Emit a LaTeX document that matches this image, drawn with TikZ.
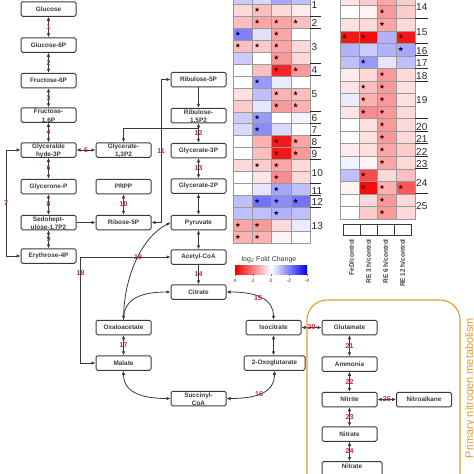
\documentclass[tikz,border=0pt]{standalone}
\usepackage{fontspec}
\setmainfont{Liberation Sans}
\usetikzlibrary{arrows.meta,shapes.geometric,calc}
\definecolor{boxc}{HTML}{3A3A3A}
\definecolor{numc}{HTML}{C8283C}
\definecolor{orc}{HTML}{E59A2F}
\definecolor{hmR}{HTML}{F20000}
\definecolor{hmB}{HTML}{0000F2}
\begin{document}
\begin{tikzpicture}[x=1pt,y=-1pt,
  mbox/.style={draw=boxc, line width=1pt, rounded corners=1.5pt, fill=white, minimum width=55pt, minimum height=14.5pt, inner sep=0pt, font=\bfseries\fontsize{6.4}{8}\selectfont, text=boxc, align=center},
  tl/.style={inner sep=0pt, font=\bfseries\fontsize{6.4}{8.2}\selectfont, text=boxc, align=center},
  rn/.style={inner sep=0.3pt, font=\bfseries\fontsize{7}{7}\selectfont, text=numc},
  conn/.style={draw=boxc, line width=0.8pt},
  arr/.style={conn, -{Latex[length=4pt,width=3.6pt]}},
  darr/.style={conn, {Latex[length=4pt,width=3.6pt]}-{Latex[length=4pt,width=3.6pt]}},
  hstar/.style={star, star points=5, star point ratio=2.4, inner sep=0pt, minimum size=4.8pt},
  hlab/.style={anchor=west, inner sep=0pt, font=\fontsize{10}{10}\selectfont, text=black!85},
  sepl/.style={draw=black!85, line width=0.7pt},
  gridl/.style={draw=black!40, line width=0.3pt},
  collab/.style={rotate=90, anchor=east, inner sep=0pt, font=\bfseries\fontsize{6.5}{6.5}\selectfont, text=boxc},
]
\clip (0,0) rectangle (474,474);
\fill[white] (0,0) rectangle (474,474);

% ---------------- heatmap 1 ----------------
\def\hmA{{B/20/0,B/15/0,B/35/0,B/25/0},{R/15/0,R/25/1,R/15/0,R/8/0},{R/25/0,R/35/1,R/35/1,R/25/1},{B/50/1,B/12/0,R/35/1,R/0/0},{R/25/1,R/20/1,R/35/1,R/15/0},{B/20/0,R/0/0,R/40/1,R/15/0},{R/0/0,R/25/0,R/85/1,R/40/1},{R/0/0,B/40/1,B/8/0,R/0/0},{R/12/0,B/25/0,R/30/1,R/25/1},{R/20/0,B/10/0,R/40/1,R/30/1},{B/20/0,B/40/1,R/0/0,B/5/0},{B/15/0,B/45/1,B/15/0,R/0/0},{R/0/0,R/30/0,R/90/1,R/35/1},{R/0/0,R/25/0,R/90/1,R/40/1},{R/15/0,R/20/1,R/35/1,R/15/0},{R/0/0,R/10/0,R/45/1,R/15/0},{R/0/0,B/10/0,B/35/1,B/25/0},{B/25/0,B/55/1,B/45/1,B/55/1},{B/25/0,B/25/0,B/30/1,B/25/0},{R/35/1,R/40/1,R/15/0,B/8/0},{R/30/1,R/30/1,R/5/0,R/0/0}}
\foreach \hrow [count=\ri from 0] in \hmA {
  \foreach \cc/\amt/\sx [count=\ci from 0] in \hrow {
    \pgfmathsetmacro\xx{233+\ci*19.25}
    \pgfmathsetmacro\yy{-7.92+\ri*11.96}
    \fill[hm\cc!\amt!white] (\xx,\yy) rectangle ++(19.25,11.96);
    \ifnum\sx=1 \node[hstar, fill=hm\cc!30!black] at (\xx+4.8,\yy+5.6) {};\fi
  }
}
\foreach \k in {1,...,20} \draw[gridl] (233,-7.92+\k*11.96) -- (310,-7.92+\k*11.96);
\foreach \k in {1,2,3} \draw[gridl] (233+\k*19.25,-8) -- (233+\k*19.25,243.24);
\draw[gridl] (233,-8) rectangle (310,243.24);
\foreach \j in {2,3,6,7,10,11,12,13,14,16,17,18} \draw[sepl] (310,-7.92+\j*11.96) -- (321,-7.92+\j*11.96);
\foreach \t/\yl in {1/5,2/22.7,3/46.7,4/70.5,5/94,6/118,7/130,8/141.7,9/154,10/172.7,11/190.8,12/202.3,13/226} \node[hlab] at (311.5,\yl) {\t};

% ---------------- heatmap 2 ----------------
\def\hmB{{R/10/0,R/20/0,R/35/0,R/20/0},{R/0/0,R/5/0,R/40/1,R/20/0},{R/12/0,R/15/0,R/35/1,R/15/0},{R/90/1,R/95/1,B/30/0,R/90/1},{B/30/0,B/20/0,B/30/0,B/35/1},{B/25/0,B/40/1,B/10/0,B/25/0},{R/8/0,R/15/0,R/40/1,R/15/0},{R/10/0,R/25/1,R/40/1,R/12/0},{B/8/0,R/30/1,R/40/1,R/12/0},{R/10/0,R/45/1,R/40/1,R/15/0},{R/0/0,R/12/0,R/40/1,R/15/0},{R/0/0,R/12/0,R/40/1,R/15/0},{R/8/0,R/12/0,R/35/1,R/20/0},{B/5/0,R/5/0,R/35/1,R/15/0},{B/25/0,R/70/1,R/15/0,R/25/0},{R/5/0,R/95/1,R/30/1,R/65/1},{R/0/0,R/15/0,R/40/1,R/15/0},{R/0/0,R/20/0,R/40/1,R/15/0}}
\foreach \hrow [count=\ri from 0] in \hmB {
  \foreach \cc/\amt/\sx [count=\ci from 0] in \hrow {
    \pgfmathsetmacro\xx{340+\ci*18.75}
    \pgfmathsetmacro\yy{-7+\ri*12.55}
    \fill[hm\cc!\amt!white] (\xx,\yy) rectangle ++(18.75,12.55);
    \ifnum\sx=1 \node[hstar, fill=hm\cc!30!black] at (\xx+4.5,\yy+5.8) {};\fi
  }
}
\foreach \k in {1,...,17} \draw[gridl] (340,-7+\k*12.55) -- (415,-7+\k*12.55);
\foreach \k in {1,2,3} \draw[gridl] (340+\k*18.75,-8) -- (340+\k*18.75,218.9);
\draw[gridl] (340,-8) rectangle (415,218.9);
\foreach \j in {2,4,5,6,7,10,11,12,13,14,16} \draw[sepl] (415,-7+\j*12.55) -- (428,-7+\j*12.55);
\foreach \t/\yl in {14/6.7,15/32.3,16/51,17/63.3,18/76,19/100,20/126.7,21/139.3,22/151.7,23/164.3,24/182.7,25/206} \node[hlab] at (416,\yl) {\t};

% column labels
\draw[boxc, line width=0.8pt] (343,224) rectangle (411,235);
\foreach \xd in {360,377,394} \draw[boxc, line width=0.6pt] (\xd,224) -- (\xd,235);
\node[collab] (cl1) at (351.5,239) {FeD/control};
\node[collab] (cl2) at (368.5,239) {RE 3 h/control};
\node[collab] (cl3) at (385.5,239) {RE 6 h/control};
\node[collab] (cl4) at (402.5,239) {RE 12 h/control};

% legend
\node[font=\fontsize{7}{7}\selectfont, text=boxc, inner sep=0pt] (lgt) at (269,260) {log\textsubscript{2} Fold Change};
\shade[left color=hmR, right color=hmB, middle color=white] (235,265) rectangle (307,274);
\foreach \xt/\lt in {235/4,253/2,271/0,289/-2,307/-4} {
  \draw[boxc!70, line width=0.4pt] (\xt,274) -- (\xt,276);
  \node[font=\fontsize{5}{5}\selectfont, text=boxc, inner sep=0pt] at (\xt,280.5) {\lt};
}

% ---------------- pathway nodes ----------------
\node[mbox] (glc) at (48.5,9) {Glucose};
\node[mbox] (g6p) at (48.5,45) {Glucose-6P};
\node[mbox] (f6p) at (48.5,80.5) {Fructose-6P};
\node[mbox] (f16p) at (48.5,115) {};
\node[mbox] (gap) at (48.5,150) {};
\node[mbox] (g13p) at (123.5,150) {};
\node[mbox] (dhap) at (48.5,186.5) {Glycerone-P};
\node[mbox] (prpp) at (123.5,186.5) {PRPP};
\node[mbox] (s17p) at (48.5,222.5) {};
\node[mbox] (r5p) at (123.5,222.5) {Ribose-5P};
\node[mbox] (e4p) at (48.5,256) {Erythrose-4P};
\node[mbox] (ru5p) at (198.5,79.5) {Ribulose-5P};
\node[mbox] (rubp) at (198.5,115.5) {};
\node[mbox] (g3p) at (198.5,150.5) {Glycerate-3P};
\node[mbox] (g2p) at (198.5,186) {Glycerate-2P};
\node[mbox] (pyr) at (198.5,222.5) {Pyruvate};
\node[mbox] (acoa) at (198.5,257) {Acetyl-CoA};
\node[mbox] (cit) at (198.5,292) {Citrate};
\node[mbox] (oaa) at (123.5,327.5) {Oxaloacetate};
\node[mbox] (mal) at (123.5,363) {Malate};
\node[mbox] (scoa) at (198.5,398.5) {};
\node[mbox] (icit) at (273.5,327.5) {Isocitrate};
\node[mbox, minimum width=61pt] (ogl) at (274.5,363) {2-Oxoglutarate};
\node[mbox] (glu) at (349.5,327.5) {Glutamate};
\node[mbox] (amm) at (349.5,364) {Ammonia};
\node[mbox] (nit) at (349.5,399.5) {Nitrite};
\node[mbox] (nal) at (424,399.5) {Nitroalkane};
\node[mbox] (no3) at (349.5,434) {Nitrate};
\node[mbox, minimum width=60pt, minimum height=30pt, anchor=north] (no3x) at (352,461) {};

% ---------------- connectors ----------------
\draw[darr] (glc) -- node[rn]{1} (g6p);
\draw[darr] (g6p) -- node[rn]{2} (f6p);
\draw[darr] (f6p) -- node[rn]{3} (f16p);
\draw[darr] (f16p) -- node[rn]{4} (gap);
\draw[darr] (gap) -- node[rn]{5} (g13p);
\draw[darr] (gap) -- node[rn]{6} (dhap);
\coordinate (c7) at (6,0);
\draw[darr] (gap.west) -- (c7 |- gap.west) -- node[rn]{7} (c7 |- e4p.west) -- (e4p.west);
\draw[darr] (dhap) -- node[rn]{8} (s17p);
\draw[darr] (s17p) -- node[rn]{9} (e4p);
\draw[darr] (prpp) -- node[rn]{10} (r5p);
\draw[arr] (s17p) -- (r5p);
\coordinate (c11) at (161,0);
\draw[darr] (r5p.east) -- (c11 |- r5p.east) -- node[rn]{11} (c11 |- ru5p.west) -- (ru5p.west);
\draw[arr] (ru5p) -- (rubp);
\draw[darr] (rubp) -- node[rn]{12} (g3p);
\coordinate (j12) at (198.5,128);
\draw[arr] (j12) -| (g13p.north);
\draw[darr] (g3p) -- node[rn]{13} (g2p);
\draw[darr] (g2p) -- (pyr);
\draw[darr] (pyr) -- (acoa);
\draw[arr] (acoa) -- node[rn]{14} (cit);
\draw[darr] (oaa) -- node[rn]{17} (mal);
\draw[darr] (icit.south) -- (icit.south |- ogl.north);
\draw[darr] (icit) -- node[rn]{20} (glu);
\draw[darr] (glu) -- node[rn]{21} (amm);
\draw[darr] (amm) -- node[rn]{22} (nit);
\draw[darr] (nit) -- node[rn]{23} (no3);
\draw[darr] (no3.south) -- node[rn]{24} (no3.south |- no3x.north);
\draw[darr] (nit) -- node[rn]{25} (nal);
\coordinate (j18) at (80,257);
\draw[arr] (j18) -- (acoa.west);
\draw[arr] (j18) |- (mal.west);
\node[rn] (n18) at (80.5,273) {18};
\node[rn] (n19) at (138,257) {19};
\draw[darr] (oaa.north) .. controls +(1,-45) and +(-28,14) .. (pyr.west);
\draw[arr] (oaa.north) .. controls +(0,-22) and +(-28,0) .. (cit.west);
\draw[darr] (mal.south) .. controls +(0,22) and +(-28,0) .. (scoa.west);
\draw[darr] (cit.east) .. controls +(32,0) and +(0,-20) .. (icit.north);
\draw[darr] (ogl.south) .. controls +(0,22) and +(30,0) .. (scoa.east);
\node[rn] (n15) at (258,298) {15};
\node[rn] (n16) at (259,394) {16};

% two-line texts
\node[tl] (f16pt) at (48.5,116.3) {Fructose-\\1,6P};
\node[tl] (gapt) at (48.5,151) {Glyceralde\\hyde-3P};
\node[tl] (g13pt) at (123.5,151) {Glycerate-\\1,3P2};
\node[tl] (s17pt) at (48.5,223.5) {Sedohept-\\ulose-1,7P2};
\node[tl] (rubpt) at (198.5,116.5) {Ribulose-\\1,5P2};
\node[tl] (scoat) at (198.5,399.5) {Succinyl-\\CoA};
\node[tl] (no3xt) at (352,466.5) {Nitrate};

% nitrogen metabolism frame
\draw[orc, line width=1.1pt, rounded corners=20pt] (307,300) rectangle (460,530);
\node[rotate=90, anchor=base, text=orc, font=\fontsize{11}{11}\selectfont, inner sep=0pt] (pnm) at (473,388) {Primary nitrogen metabolism};
\end{tikzpicture}
\end{document}
